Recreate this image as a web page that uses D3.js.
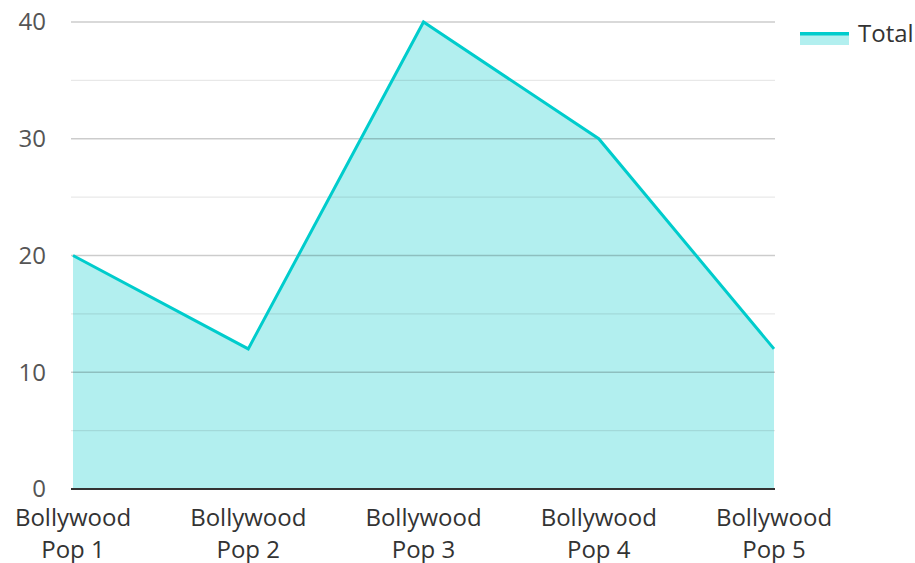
<!DOCTYPE html>
<html><head><meta charset="utf-8">
<script src="https://cdn.jsdelivr.net/npm/d3@7"></script>
<style>body{margin:0;background:#fff;} svg{display:block;font-family:"Open Sans","Noto Sans",sans-serif;}</style>
</head><body>
<svg id="c" width="915" height="563"></svg>
<script>
const categories = ["Bollywood Pop 1","Bollywood Pop 2","Bollywood Pop 3","Bollywood Pop 4","Bollywood Pop 5"];
const totals = [20, 12, 40, 30, 12];
const yTicks = [0, 10, 20, 30, 40];
const yMinor = [5, 15, 25, 35];
const seriesName = "Total";

const svg = d3.select("#c");
const x = d3.scalePoint().domain(categories).range([73, 774]);
const y = d3.scaleLinear().domain([0, 40]).range([489, 22]);

// fill
const area = d3.area().x((d,i)=>x(categories[i])).y0(y(0)).y1(d=>y(d));
svg.append("path").datum(totals).attr("d", area).attr("fill", "#b2efef");

// grid
svg.append("g").selectAll("line").data(yMinor).join("line")
  .attr("x1", 71).attr("x2", 775).attr("y1", d=>y(d)).attr("y2", d=>y(d))
  .attr("stroke", "rgba(0,0,0,0.09)").attr("stroke-width", 1.3);
svg.append("g").selectAll("line").data(yTicks.filter(d=>d>0)).join("line")
  .attr("x1", 71).attr("x2", 775).attr("y1", d=>y(d)).attr("y2", d=>y(d))
  .attr("stroke", "rgba(0,0,0,0.2)").attr("stroke-width", 1.3);

// line
const line = d3.line().x((d,i)=>x(categories[i])).y(d=>y(d));
svg.append("path").datum(totals).attr("d", line).attr("fill", "none")
  .attr("stroke", "#00cccc").attr("stroke-width", 3).attr("stroke-linejoin", "miter");

// x axis line
svg.append("line").attr("x1", 71).attr("x2", 775).attr("y1", y(0)).attr("y2", y(0))
  .attr("stroke", "#333").attr("stroke-width", 2);

// y labels
svg.append("g").selectAll("text").data(yTicks).join("text")
  .attr("x", 46).attr("y", d=>y(d)).attr("dy", "0.35em").attr("text-anchor", "end")
  .attr("font-size", 24).attr("fill", "#555").text(d=>d);

// x labels
const xl = svg.append("g").selectAll("text").data(categories).join("text")
  .attr("x", d=>x(d)).attr("y", 526).attr("text-anchor", "middle")
  .attr("font-size", 24).attr("fill", "#333");
xl.each(function(d){
  const parts = d.split(" ");
  const a = parts.slice(0,1).join(" "), b = parts.slice(1).join(" ");
  const t = d3.select(this);
  t.append("tspan").attr("x", x(d)).attr("dy", 0).text(a);
  t.append("tspan").attr("x", x(d)).attr("dy", 32).text(b);
});

// legend
const lg = svg.append("g");
lg.append("rect").attr("x", 800).attr("y", 32).attr("width", 49).attr("height", 13).attr("fill", "#b2efef");
lg.append("rect").attr("x", 800).attr("y", 32).attr("width", 49).attr("height", 3.5).attr("fill", "#00cccc");
lg.append("text").attr("x", 858).attr("y", 42).attr("font-size", 24).attr("fill", "#333").text(seriesName);
</script>
</body></html>
